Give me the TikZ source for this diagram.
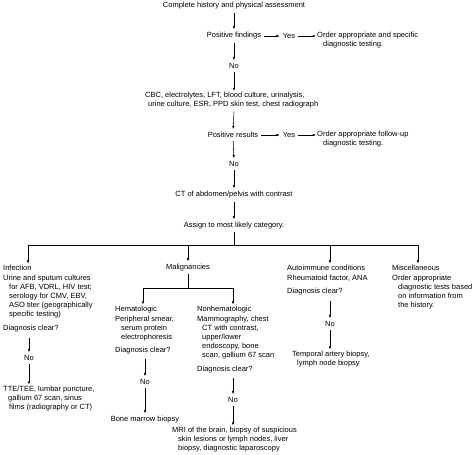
\documentclass[tikz,border=0pt]{standalone}
\usepackage{fontspec}
\setmainfont{Liberation Sans}
\usetikzlibrary{arrows.meta}
\begin{document}
\begin{tikzpicture}[x=1pt,y=-1pt,
  every node/.style={font=\fontsize{7.5}{9}\selectfont, inner sep=1pt},
  blk/.style={align=left, anchor=north west, inner sep=0pt},
  lbl/.style={anchor=center, inner sep=2pt},
  arr/.style={-{Latex[length=3.2pt,width=2.6pt]}, line width=0.55pt, shorten >=1pt, shorten <=1pt},
  ln/.style={line width=0.55pt}]
\useasboundingbox[fill=white] (0,0) rectangle (474,455);

% top chain
\node[lbl] (hist) at (234,6) {Complete history and physical assessment};
\node[lbl] (pf) at (234,36) {Positive findings};
\node[lbl] (yes1) at (289,36) {Yes};
\node[blk] (ord1) at (317,32) {Order appropriate and specific\\\hspace*{6pt}diagnostic testing.};
\node[lbl] (no1) at (234,66) {No};
\node[blk] (cbc) at (145,92) {CBC, electrolytes, LFT, blood culture, urinalysis,\\\hspace*{3pt}urine culture, ESR, PPD skin test, chest radiograph};
\node[lbl] (pr) at (233,135) {Positive results};
\node[lbl] (yes2) at (289,135) {Yes};
\node[blk] (ord2) at (317,131) {Order appropriate follow-up\\\hspace*{6pt}diagnostic testing.};
\node[lbl] (no2) at (234,164) {No};
\node[lbl] (ct) at (234,195) {CT of abdomen/pelvis with contrast};
\node[lbl] (assign) at (234,226) {Assign to most likely category.};

\draw[arr] (hist) -- (pf);
\draw[arr] (pf) -- (yes1);
\draw[arr] (yes1) -- (ord1.west |- yes1);
\draw[arr] (pf) -- (no1);
\draw[arr] (no1) -- (no1 |- cbc.north);
\draw[arr] (no1 |- cbc.south) ++(0,2) -- (pr);
\draw[arr] (pr) -- (yes2);
\draw[arr] (yes2) -- (ord2.west |- yes2);
\draw[arr] (pr) -- (no2);
\draw[arr] (no2) -- (ct);
\draw[arr] (ct) -- (assign);

% bus
\coordinate (jn) at (234,245);
\coordinate (bI) at (28,245);
\coordinate (bM) at (188,245);
\coordinate (bA) at (330,245);
\coordinate (bS) at (418,245);
\draw[ln] (assign) -- (jn);
\draw[ln] (bI) -- (bS);

% Infection
\node[blk] (infh) at (3,264.5) {Infection};
\node[blk] (infb) at (3,274.5) {Urine and sputum cultures\\\hspace*{6pt}for AFB, VDRL, HIV test;\\\hspace*{6pt}serology for CMV, EBV,\\\hspace*{6pt}ASO titer (geographically\\\hspace*{6pt}specific testing)};
\node[blk] (infdx) at (3,324.5) {Diagnosis clear?};
\node[lbl] (infno) at (29,358) {No};
\node[blk] (inftest) at (3,385.5) {TTE/TEE, lumbar puncture,\\\hspace*{5pt}gallium 67 scan, sinus\\\hspace*{6pt}films (radiography or CT)};
\draw[arr,shorten <=0pt] (bI) -- (bI |- infh.north);
\draw[arr] (infdx.south -| infno) ++(0,5) -- (infno);
\draw[arr] (infno) -- (infno |- inftest.north);

% Malignancies
\node[lbl] (mal) at (188,268) {Malignancies};
\draw[arr,shorten <=0pt] (bM) -- (mal);
\coordinate (mj) at (188,288);
\coordinate (mH) at (143,288);
\coordinate (mN) at (233,288);
\draw[ln] (mal) -- (mj);
\draw[ln] (mH) -- (mN);
\node[blk] (hemh) at (115,305.5) {Hematologic};
\node[blk] (hemb) at (115,315.5) {Peripheral smear,\\\hspace*{6pt}serum protein\\\hspace*{6pt}electrophoresis};
\node[blk] (hemdx) at (115,346.5) {Diagnosis clear?};
\node[lbl] (hemno) at (145,382) {No};
\node[lbl] (bone) at (145,420) {Bone marrow biopsy};
\draw[arr,shorten <=0pt] (mH) -- (mH |- hemh.north);
\draw[arr] (hemdx.south -| hemno) ++(0,4) -- (hemno);
\draw[arr] (hemno) -- (bone);

\node[blk] (nonh) at (197,305.5) {Nonhematologic};
\node[blk] (nonb) at (197,315.5) {Mammography, chest\\\hspace*{5pt}CT with contrast,\\\hspace*{5pt}upper/lower\\\hspace*{5pt}endoscopy, bone\\\hspace*{5pt}scan, gallium 67 scan};
\node[blk] (nondx) at (197,365.5) {Diagnosis clear?};
\node[lbl] (nonno) at (233,400) {No};
\node[blk] (mri) at (172,426.5) {MRI of the brain, biopsy of suspicious\\\hspace*{6pt}skin lesions or lymph nodes, liver\\\hspace*{6pt}biopsy, diagnostic laparoscopy};
\draw[arr,shorten <=0pt] (mN) -- (mN |- nonh.north);
\draw[arr] (nondx.south -| nonno) ++(0,4) -- (nonno);
\draw[arr] (nonno) -- (nonno |- mri.north);

% Autoimmune
\node[blk] (auth) at (287,264.5) {Autoimmune conditions};
\node[blk] (autb) at (287,274.5) {Rheumatoid factor, ANA};
\node[blk] (autdx) at (287,287.5) {Diagnosis clear?};
\node[lbl] (autno) at (330,324) {No};
\node[blk] (temp) at (292,350.5) {Temporal artery biopsy,\\\hspace*{5pt}lymph node biopsy};
\draw[arr,shorten <=0pt] (bA) -- (bA |- auth.north);
\draw[arr] (autdx.south -| autno) ++(0,5) -- (autno);
\draw[arr] (autno) -- (autno |- temp.north);

% Miscellaneous
\node[blk] (misch) at (392,264.5) {Miscellaneous};
\node[blk] (miscb) at (392,274.5) {Order appropriate\\\hspace*{6pt}diagnostic tests based\\\hspace*{6pt}on information from\\\hspace*{6pt}the history.};
\draw[arr,shorten <=0pt] (bS) -- (bS |- misch.north);
\end{tikzpicture}
\end{document}
